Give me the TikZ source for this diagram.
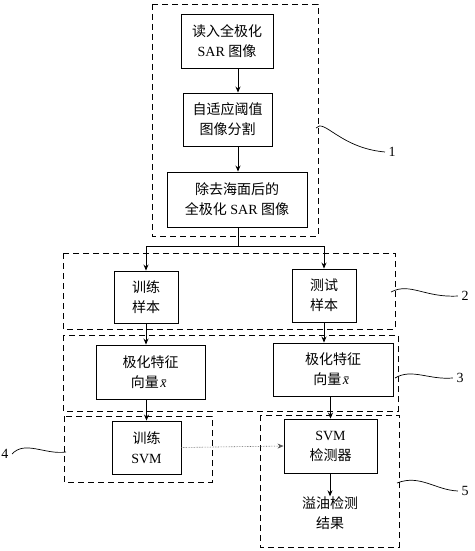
\documentclass[tikz,border=0pt]{standalone}
\usepackage{fontspec}
\setmainfont{Liberation Serif}
\newfontfamily\cjk{Noto Sans CJK SC}
\newcommand\zh[1]{{\cjk #1}}
\newcommand\xbar{\hspace{1.5pt}\textit{x^^^^0304}}
\usetikzlibrary{arrows.meta}
\begin{document}
\begin{tikzpicture}[x=1pt,y=-1pt,
  proc/.style={draw,line width=0.9pt,align=center,font=\fontsize{14}{20}\selectfont,inner sep=0pt},
  grp/.style={draw,dashed,line width=0.9pt,dash pattern=on 6pt off 4pt},
  arr/.style={-{Stealth[length=6pt,width=5pt]},line width=0.8pt},
  lab/.style={font=\fontsize{14}{16}\selectfont},
  wave/.style={line width=0.7pt}]
\useasboundingbox (0,0) rectangle (474,551);
% group boxes
\draw[grp] (152,4) rectangle (318,236);
\draw[grp] (63,253) rectangle (395,329);
\draw[grp] (63,335) rectangle (398,411);
\draw[grp] (64,416) rectangle (212,482);
\draw[grp] (260,415) rectangle (399,547);
% process boxes
\node[proc,minimum width=92pt,minimum height=54pt] (a) at (227,41) {\zh{读入全极化}\\SAR \zh{图像}};
\node[proc,minimum width=89pt,minimum height=53pt] (b) at (227.5,119.5) {\zh{自适应阈值}\\\zh{图像分割}};
\node[proc,minimum width=140pt,minimum height=55pt] (c) at (237,199.5) {\zh{除去海面后的}\\\zh{全极化} SAR \zh{图像}};
\node[proc,minimum width=64pt,minimum height=52pt] (tr) at (146,297) {\zh{训练}\\\zh{样本}};
\node[proc,minimum width=64pt,minimum height=53pt] (te) at (324,295.5) {\zh{测试}\\\zh{样本}};
\node[proc,minimum width=109pt,minimum height=54pt] (fl) at (150.5,372) {\zh{极化特征}\\\zh{向量}\xbar};
\node[proc,minimum width=120pt,minimum height=53pt] (fr) at (333,369.5) {\zh{极化特征}\\\zh{向量}\xbar};
\node[proc,minimum width=69pt,minimum height=53pt] (svm) at (146.5,447.5) {\zh{训练}\\SVM};
\node[proc,minimum width=93pt,minimum height=54pt] (det) at (330.5,446) {SVM\\\zh{检测器}};
\node[align=center,font=\fontsize{14}{20}\selectfont,inner sep=0pt] (res) at (330,513) {\zh{溢油检测}\\\zh{结果}};
% connectors
\coordinate (split) at (238,246);
\draw[arr] (a.south -| split) -- (b.north -| split);
\draw[arr] (b.south -| split) -- (c.north -| split);
\draw[line width=0.8pt] (c.south -| split) -- (split);
\draw[arr] (split) -| (tr.north);
\draw[arr] (split) -| (te.north);
\draw[arr] (tr.south) -- (tr.south |- fl.north);
\draw[arr] (te.south) -- (te.south |- fr.north);
\draw[arr] (fl.south -| svm) -- (svm.north);
\draw[arr] (fr.south -| det) -- (det.north);
\draw[arr] (det.south -| res) -- (res.north);
\draw[-{Stealth[length=6pt,width=5pt]},densely dotted,line width=0.6pt,gray!70!black] (svm.east) -- (det.west);
% labels
\node[lab] (l1) at (392,152) {1};
\node[lab] (l2) at (465,296) {2};
\node[lab] (l3) at (460,378) {3};
\node[lab] (l4) at (5,454) {4};
\node[lab] (l5) at (465,491) {5};
\coordinate (w1) at (316,128);
\coordinate (w2) at (391,292);
\coordinate (w3) at (395,378);
\coordinate (w4) at (66,452);
\coordinate (w5) at (397,483);
\draw[wave] (w1) .. controls (324,118) and (340,148) .. (l1.west);
\draw[wave] (w2) .. controls (410,282) and (425,298) .. (l2.west);
\draw[wave] (w3) .. controls (412,368) and (428,380) .. (l3.west);
\draw[wave] (l4.east) .. controls (25,440) and (45,455) .. (w4);
\draw[wave] (w5) .. controls (420,474) and (435,490) .. (l5.west);
\end{tikzpicture}
\end{document}
